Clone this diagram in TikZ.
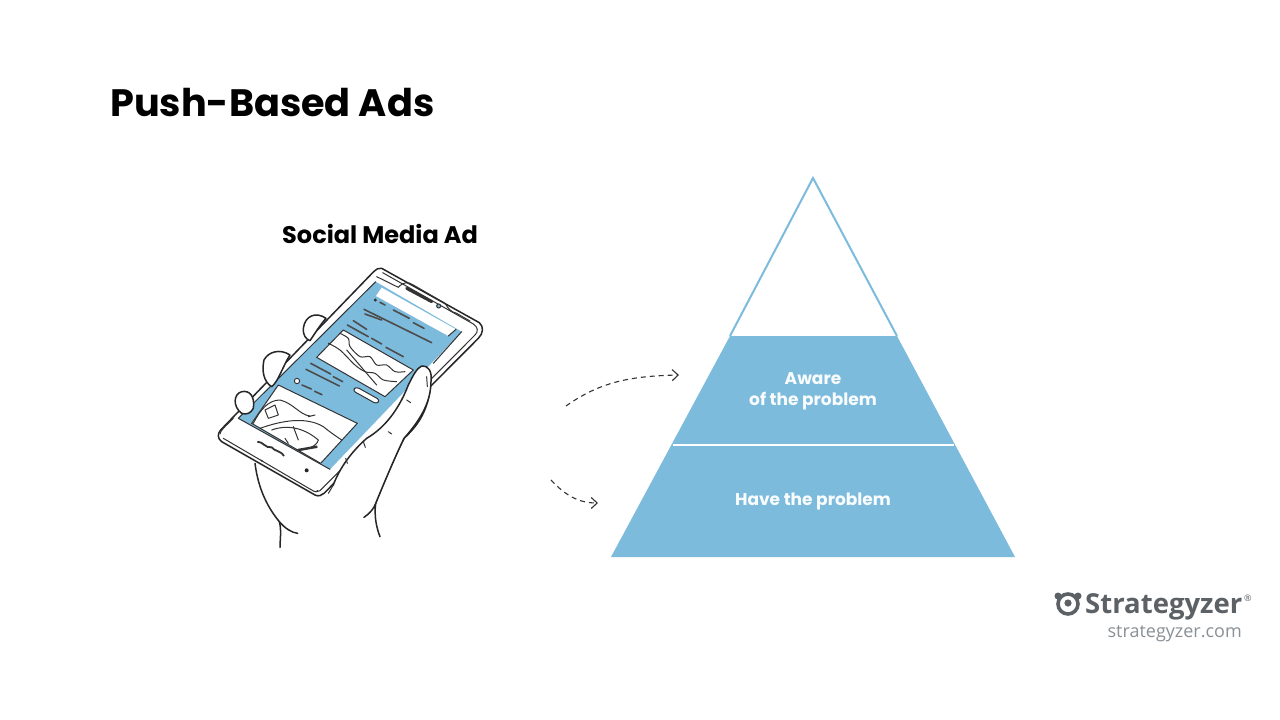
\documentclass[tikz,border=0pt]{standalone}
\usepackage{fontspec}
\usetikzlibrary{arrows.meta}
\setmainfont{Poppins}
\newfontfamily\logofont{Open Sans}
\definecolor{pyramidblue}{HTML}{7DBBDD}
\definecolor{logogray}{HTML}{5C6166}
\definecolor{urlgray}{HTML}{8A9096}
\tikzset{
    ink/.style={line width=1.5pt, line cap=round, line join=round, black!85},
    thinink/.style={line width=1pt, line cap=round, line join=round, black!80},
    scribble/.style={line width=1.6pt, line cap=round, black!70},
    heading/.style={font=\bfseries, black, inner sep=0pt},
    level/.style={font=\fontsize{17}{21}\selectfont\bfseries, white!95!pyramidblue, align=center, inner sep=0pt},
    push/.style={dashed, dash pattern=on 5pt off 4pt, line width=1.1pt, black!80, -{Straight Barb[length=6pt,width=11pt]}},
}
\begin{document}
\begin{tikzpicture}[x=1pt, y=-1pt]
    \useasboundingbox (0, 0) rectangle (1280, 720);
    \fill[white] (0, 0) rectangle (1280, 720);

    \node[heading, anchor=west, font=\fontsize{38.2}{42}\selectfont\bfseries] (title) at (110, 103) {Push-Based Ads};
    \node[heading, anchor=west, font=\fontsize{24}{28}\selectfont\bfseries] (adlabel) at (282, 234) {Social Media Ad};

    % pyramide
    \fill[pyramidblue] (730, 336) -- (897, 336) -- (1015, 557) -- (611, 557) -- cycle;
    \draw[pyramidblue, line width=2pt, line join=miter] (730, 336) -- (813, 178) -- (897, 336);
    \draw[white, line width=1.6pt] (673, 445) -- (954, 445);
    \node[level] (aware) at (813, 391) {Aware\\of the problem};
    \node[level] (have) at (813, 501) {Have the problem};

    % fleches
    \coordinate (awarestart) at (566, 406);
    \coordinate (awareend) at (679, 375);
    \coordinate (havestart) at (551, 480);
    \coordinate (haveend) at (598, 503);
    \draw[push] (awarestart) .. controls (600, 382) and (630, 376) .. (awareend);
    \draw[push] (havestart) .. controls (565, 495) and (578, 503) .. (haveend);

    % telephone et main
    \begin{scope}[xshift=200pt, yshift=-250pt, scale=1/3]
        % poignet
        \draw[ink] (165, 640) .. controls (175, 720) and (205, 775) .. (238, 815) .. controls (245, 840) and (240, 870) .. (240, 892);
        \draw[ink] (238, 815) .. controls (255, 835) and (275, 848) .. (293, 850);
        \draw[ink] (492, 802) .. controls (510, 790) and (522, 775) .. (527, 760) .. controls (522, 800) and (530, 835) .. (540, 860);
        \draw[ink] (527, 760) .. controls (550, 700) and (585, 620) .. (612, 565) .. controls (650, 530) and (680, 490) .. (690, 420);
        % boitier
        \draw[ink, fill=white] (545, 55) .. controls (535, 52) and (530, 58) .. (520, 66) -- (62, 540) .. controls (52, 552) and (52, 565) .. (65, 575) -- (345, 735) .. controls (355, 740) and (365, 737) .. (372, 730) -- (835, 265) .. controls (850, 250) and (852, 230) .. (838, 218) -- cycle;
        \draw[thinink] (548, 68) -- (820, 222) .. controls (835, 232) and (835, 245) .. (825, 255) -- (360, 722) .. controls (352, 728) and (345, 726) .. (335, 720) -- (70, 565);
        \draw[thinink] (60, 552) .. controls (62, 540) and (75, 530) .. (100, 505);
        \draw[thinink] (530, 80) -- (595, 112) .. controls (610, 95) and (625, 95) .. (640, 105) -- (735, 160) .. controls (745, 175) and (750, 185) .. (770, 190) -- (810, 213);
        % ecran
        \fill[pyramidblue] (527, 95) -- (785, 245) -- (390, 658) -- (115, 505) -- cycle;
        \draw[thinink] (527, 95) -- (115, 505) -- (390, 658);
        \draw[thinink] (785, 245) -- (700, 340);
        % haut-parleur
        \draw[line width=3pt, black!80, line cap=round] (620, 115) -- (695, 155);
        \draw[thinink, fill=pyramidblue] (716, 168) circle (6);
        % bloc du haut
        \fill[white] (545, 113) -- (768, 238) -- (745, 258) -- (528, 138) -- cycle;
        \draw[thinink] (745, 258) -- (768, 238);
        \fill[black!80] (526, 150) circle (5);
        \draw[scribble] (540, 157) -- (555, 165);
        \draw[scribble] (580, 180) -- (628, 205);
        \draw[scribble] (640, 218) -- (672, 235);
        \draw[scribble] (492, 178) -- (695, 278);
        \draw[scribble] (495, 192) -- (545, 210);
        \draw[scribble] (460, 212) -- (500, 238);
        \draw[scribble] (442, 225) -- (505, 260);
        \draw[scribble] (515, 265) -- (545, 282);
        \draw[scribble] (558, 292) -- (610, 320);
        % premiere image
        \draw[thinink, fill=white] (430, 240) -- (640, 360) -- (555, 440) -- (350, 322) -- cycle;
        \draw[thinink] plot[smooth] coordinates {(420, 250) (445, 265) (450, 290) (480, 320) (510, 320) (530, 345) (560, 345) (585, 365) (615, 365)};
        \draw[thinink] plot[smooth] coordinates {(385, 280) (420, 300) (465, 345) (495, 365) (525, 370) (550, 390) (590, 395)};
        \draw[thinink] (440, 300) -- (530, 405);
        % texte du milieu
        \draw[scribble] (332, 340) -- (392, 372);
        \draw[scribble] (400, 380) -- (428, 395);
        \draw[scribble] (318, 358) -- (418, 408);
        \draw[thinink, fill=white] (291, 393) circle (8);
        \draw[scribble] (306, 405) -- (334, 417);
        \draw[scribble] (344, 424) -- (366, 434);
        \draw[thinink, fill=white, rounded corners=3pt] (468, 410) -- (540, 450) -- (530, 462) -- (458, 422) -- cycle;
        % deuxieme image
        \draw[thinink, fill=white] (235, 405) -- (472, 520) -- (362, 640) -- (155, 520) -- cycle;
        \draw[thinink] (160, 520) .. controls (180, 480) and (205, 450) .. (240, 450) .. controls (280, 460) and (300, 495) .. (330, 498);
        \draw[thinink] (180, 535) .. controls (250, 510) and (320, 500) .. (370, 530) .. controls (395, 550) and (410, 560) .. (425, 570);
        \draw[thinink] (215, 540) .. controls (270, 520) and (320, 540) .. (355, 570) .. controls (350, 590) and (320, 600) .. (290, 600);
        \draw[thinink] (195, 480) -- (225, 465) -- (235, 495) -- (205, 505) -- cycle;
        \draw[line width=2.5pt, black!80] (295, 600) -- (352, 590);
        \draw[thinink] (325, 500) -- (345, 495);
        \draw[thinink] (280, 530) -- (295, 570);
        \draw[thinink] (255, 565) -- (265, 580);
        % touches
        \draw[line width=1.8pt, black!80] (172, 575) .. controls (190, 575) and (195, 595) .. (215, 592) .. controls (225, 605) and (240, 600) .. (252, 618);
        \fill[black!85] (185, 632) circle (3);
        \fill[black!85] (320, 661) circle (6);
        \fill[black!85] (352, 722) circle (2.5);
        % doigts
        \draw[ink, fill=white] (160, 475) .. controls (165, 440) and (150, 420) .. (125, 425) .. controls (100, 432) and (98, 470) .. (125, 490) .. controls (140, 495) and (152, 490) .. (160, 475);
        \draw[ink, fill=white] (270, 315) .. controls (240, 295) and (205, 305) .. (192, 330) .. controls (185, 360) and (190, 395) .. (215, 410) .. controls (235, 395) and (250, 345) .. (270, 315);
        \draw[ink, fill=white] (378, 205) .. controls (350, 185) and (315, 195) .. (310, 235) .. controls (308, 255) and (318, 268) .. (330, 272) .. controls (345, 250) and (360, 225) .. (378, 205);
        % pouce
        \fill[white] (400, 705) .. controls (420, 650) and (460, 600) .. (500, 565) .. controls (560, 530) and (600, 470) .. (625, 405) .. controls (640, 375) and (650, 355) .. (665, 348) .. controls (685, 345) and (697, 365) .. (693, 395) .. controls (692, 450) and (670, 500) .. (612, 565) .. controls (590, 610) and (560, 680) .. (527, 760) -- (400, 760) -- cycle;
        \draw[ink] (400, 705) .. controls (420, 650) and (460, 600) .. (500, 565) .. controls (560, 530) and (600, 470) .. (625, 405) .. controls (640, 375) and (650, 355) .. (665, 348) .. controls (685, 345) and (697, 365) .. (693, 395) .. controls (692, 450) and (670, 500) .. (612, 565) .. controls (590, 610) and (560, 680) .. (527, 760);
        \draw[thinink] (565, 545) -- (575, 552);
        \draw[thinink] (490, 575) -- (496, 592);
        \draw[thinink] (437, 625) -- (442, 640);
        \draw[thinink] (620, 450) -- (632, 458);
        \draw[thinink] (680, 380) -- (682, 410);
        \draw[thinink] (400, 705) -- (385, 730);
    \end{scope}

    % logo
    \draw[logogray, line width=3.6pt] (1068, 604) circle (10);
    \fill[logogray] (1058, 596) circle (3.5);
    \fill[logogray] (1078, 596) circle (3.5);
    \fill[logogray] (1068, 603) circle (3.6);
    \node[inner sep=0pt, anchor=west, text=logogray, font=\logofont\fontsize{27.5}{30}\selectfont\bfseries] (brand) at (1085, 607) {Strategyzer};
    \node[inner sep=0pt, anchor=west, text=logogray, font=\logofont\fontsize{9}{10}\selectfont] (mark) at (1244, 598) {®};
    \node[inner sep=0pt, anchor=east, text=urlgray, font=\logofont\fontsize{18}{20}\selectfont] (url) at (1242, 634) {strategyzer.com};
\end{tikzpicture}
\end{document}
